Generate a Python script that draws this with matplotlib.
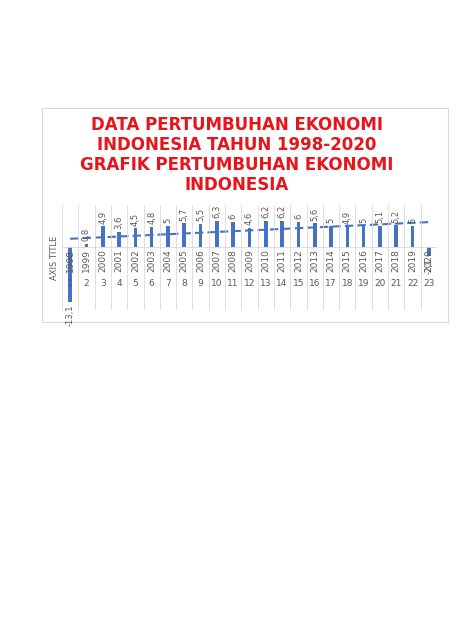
import matplotlib
matplotlib.use("Agg")
import matplotlib.pyplot as plt
import numpy as np

years = [str(y) for y in range(1998, 2021)]
growth = [-13.1, 0.8, 4.9, 3.6, 4.5, 4.8, 5.0, 5.7, 5.5, 6.3, 6.0, 4.6,
          6.2, 6.2, 6.0, 5.6, 5.0, 4.9, 5.0, 5.1, 5.2, 5.0, -2.1]
index_labels = [str(i) for i in range(1, 24)]
title = ("DATA PERTUMBUHAN EKONOMI\nINDONESIA TAHUN 1998-2020\n"
         "GRAFIK PERTUMBUHAN EKONOMI\nINDONESIA")

W, H = 474, 632
fig = plt.figure(figsize=(W / 100, H / 100), dpi=100)
fig.patch.set_facecolor("white")

# chart frame
frame = fig.add_axes([42 / W, 1 - 322 / H, 406 / W, 214 / H])
frame.set_xticks([]); frame.set_yticks([])
for s in frame.spines.values():
    s.set_color("#d9d9d9"); s.set_linewidth(0.8)

fig.text(0.5, 1 - 155 / H, title, ha="center", va="center", color="#e8141b",
         fontsize=12, fontweight="bold", linespacing=1.15)

ax = fig.add_axes([62 / W, 1 - 310 / H, 375 / W, 105 / H])
ax.set_facecolor("none")
x = np.arange(len(growth))
ax.bar(x, growth, width=0.22, color="#4472c4")
ax.set_xlim(-0.5, len(growth) - 0.5)
ax.set_ylim(-15, 10)
coef = np.polyfit(x, growth, 1)
ax.plot(x, np.polyval(coef, x), ls=(0, (4, 2)), color="#4472c4", lw=1.5)
ax.axhline(0, color="#d9d9d9", lw=0.6)
for b in np.arange(-0.5, len(growth), 1.0):
    ax.axvline(b, color="#d9d9d9", lw=0.6)
for xi, v in zip(x, growth):
    lbl = f"{v:g}".replace(".", ",")
    y = v + 0.6 if v > 0 else v - 0.6
    ax.text(xi, y, lbl, rotation=90, ha="center", va="bottom" if v > 0 else "top",
            fontsize=6, color="#595959")
    ax.text(xi, -0.5, years[xi], rotation=90, ha="center", va="top",
            fontsize=6.5, color="#595959")
    ax.text(xi, -8.6, index_labels[xi], ha="center", va="center",
            fontsize=6.5, color="#595959")
ax.set_xticks([]); ax.set_yticks([])
for s in ax.spines.values():
    s.set_visible(False)
ax.set_ylabel("AXIS TITLE", fontsize=6, color="#595959", labelpad=2)

fig.savefig("out.png", dpi=100)
